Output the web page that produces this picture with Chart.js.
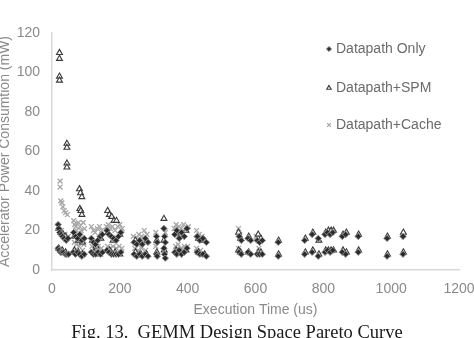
<!DOCTYPE html>
<html>
<head>
<meta charset="utf-8">
<script src="https://cdn.jsdelivr.net/npm/chart.js@4.4.0/dist/chart.umd.min.js"></script>
<style>
  html, body { margin: 0; padding: 0; background: #fff; }
  #wrap { position: relative; width: 474px; height: 338px; overflow: hidden; }
  #caption {
    position: absolute; left: 0; top: 321px; width: 474px;
    text-align: center; font-family: 'Liberation Serif', 'Times New Roman', serif;
    font-size: 18.5px; line-height: 22px; color: #1a1a1a; white-space: nowrap;
  }
</style>
</head>
<body>
<div id="wrap">
  <canvas id="chart" width="474" height="338"></canvas>
  <div id="caption">Fig. 13.&nbsp;&nbsp;GEMM Design Space Pareto Curve</div>
</div>
<script>
// design points: [execution time (us), power (mW)]
const datapathOnly = [
  [18,23],[20,21],[23,19],[27,18],[31,17],[36,16],[42,15],[47,16],
  [18,11],[21,10],[25,9],[29,9],[34,9],[39,8],[44,8],[49,8],
  [64,19],[70,17],[76,16],[82,18],[88,15],[95,16],
  [63,9],[69,8],[75,9],[81,8],[88,7],[95,8],
  [116,16],[122,14],[128,13],[135,15],[142,17],[148,18],
  [116,9],[122,8],[129,8],[136,9],[143,8],[149,9],
  [162,20],[168,18],[175,17],[182,16],[189,15],[196,17],[203,19],
  [162,10],[168,9],[175,8],[182,8],[189,8],[196,8],[203,9],
  [242,14],[250,13],[258,15],[266,13],[275,16],[283,14],
  [242,8],[250,7],[258,8],[266,7],[275,8],[283,7],
  [308,17],[310,14],[330,21],[332,17],[334,14],
  [308,8],[310,7],[330,11],[332,8],[334,6],
  [362,18],[368,20],[375,16],[382,19],[390,17],[398,21],
  [362,9],[368,8],[375,10],[382,8],[390,9],[398,11],
  [428,17],[436,15],[445,16],[455,14],
  [428,9],[436,8],[445,8],[455,7],
  [552,17],[558,15],[578,16],[586,15],[605,15],[612,14],[620,15],
  [552,9],[558,8],[578,9],[586,8],[605,8],[612,8],[620,8],
  [667,14],[667,7],[745,15],[745,8],[767,18],[767,9],[785,16],[785,7],
  [805,18],[812,19],[820,18],[828,19],[805,9],[812,10],[820,9],[828,10],
  [856,17],[866,18],[856,9],[866,8],[903,17],[903,9],
  [988,16],[988,7],[1035,17],[1035,8]
];
const datapathSpm = [
  [22,110],[22,107],[22,98],[22,96],
  [44,64],[44,62],[44,54],[44,52],
  [81,41],[84,39],[88,37],[82,31],[85,30],[88,28],
  [20,21],[26,19],[33,18],[40,17],[20,11],[30,10],[40,9],
  [66,17],[78,15],[90,14],[66,10],[78,9],[90,8],
  [119,15],[130,12],[144,16],[124,9],[140,8],
  [164,30],[169,28],[176,27],[183,25],[190,25],
  [165,19],[180,15],[200,18],[170,10],[186,9],[200,8],
  [246,15],[262,14],[279,15],[246,9],[262,8],[279,8],
  [330,26],[330,15],[331,10],[309,15],[309,9],
  [366,19],[380,18],[395,20],[366,10],[380,9],[395,10],
  [432,16],[450,15],[432,9],[450,8],
  [550,19],[556,16],[580,17],[608,18],[616,16],[550,10],[556,9],[580,9],[608,9],[616,9],
  [668,15],[668,8],[747,16],[747,9],[769,19],[769,10],[787,15],[787,8],
  [807,19],[815,20],[823,20],[830,20],[807,10],[815,10],[823,10],[830,10],
  [858,18],[868,19],[858,10],[868,9],[904,18],[904,10],
  [989,17],[989,8],[1036,19],[1036,9]
];
const datapathCache = [
  [24,45],[24,42],[26,35],[29,34],[32,32],[36,30],[40,29],[45,28],
  [20,22],[28,20],[38,18],[48,17],[27,10],[36,9],
  [64,25],[67,23],[70,22],[73,20],[78,24],[82,22],[86,20],[92,24],[96,21],
  [66,14],[72,13],[80,12],[86,14],[94,13],[70,10],[90,10],
  [116,22],[122,20],[127,19],[134,21],[140,22],[146,20],
  [118,12],[126,11],[136,12],[146,11],
  [160,22],[166,23],[172,21],[178,22],[186,20],[194,22],[200,23],[207,21],
  [164,12],[172,11],[180,12],[190,11],[198,12],[206,11],
  [240,17],[248,16],[256,18],[264,17],[272,20],[280,18],
  [244,11],[254,10],[264,11],[276,10],
  [306,19],[306,12],[334,19],
  [360,21],[366,23],[374,22],[381,21],[388,23],[396,20],[402,22],
  [364,12],[372,13],[380,11],[390,12],[400,12],
  [426,20],[434,18],[442,17],[426,11],[438,10],
  [550,21],[554,18],[550,11],[602,17],[610,11]
];

const xTicks = [0, 200, 400, 600, 800, 1000, 1200];
const yTicks = [0, 20, 40, 60, 80, 100, 120];

const toXY = arr => arr.map(p => ({ x: p[0], y: p[1] }));

const seriesNames = ['Datapath Only', 'Datapath+SPM', 'Datapath+Cache'];

const datasets = [
  {
    label: seriesNames[0], data: toXY(datapathOnly),
    pointStyle: 'rectRot', pointRadius: 3.2, borderWidth: 1,
    backgroundColor: '#2b2b2b', borderColor: '#8c8c8c'
  },
  {
    label: seriesNames[1], data: toXY(datapathSpm),
    pointStyle: 'triangle', pointRadius: 3.4, borderWidth: 1.1,
    backgroundColor: 'rgba(255,255,255,0.9)', borderColor: '#3a3a3a'
  },
  {
    label: seriesNames[2], data: toXY(datapathCache),
    pointStyle: 'crossRot', pointRadius: 3.4, borderWidth: 1.3,
    backgroundColor: '#a6a6a6', borderColor: '#a6a6a6'
  }
];

// legend sits inside the plot, stacked with wide gaps
const insideLegend = {
  id: 'insideLegend',
  afterDraw(chart) {
    const ctx = chart.ctx;
    const rows = [49, 88, 125];
    ctx.save();
    chart.data.datasets.forEach((ds, i) => {
      ctx.fillStyle = ds.backgroundColor;
      ctx.strokeStyle = ds.borderColor;
      ctx.lineWidth = ds.borderWidth;
      Chart.helpers.drawPoint(ctx, { pointStyle: ds.pointStyle, radius: 2.6, rotation: 0, borderWidth: ds.borderWidth }, 329, rows[i]);
      ctx.fillStyle = '#6b6b6b';
      ctx.font = "14px 'Liberation Sans', Arial, sans-serif";
      ctx.textBaseline = 'middle';
      ctx.textAlign = 'left';
      ctx.fillText(ds.label, 336, rows[i]);
    });
    ctx.restore();
  }
};

const tickFont = { family: "'Liberation Sans', Arial, sans-serif", size: 14 };

new Chart(document.getElementById('chart'), {
  type: 'scatter',
  data: { datasets },
  plugins: [insideLegend],
  options: {
    responsive: false,
    animation: false,
    devicePixelRatio: 1,
    layout: { padding: { top: 33, right: 15, bottom: 19, left: 0 } },
    plugins: { legend: { display: false }, tooltip: { enabled: false } },
    scales: {
      x: {
        type: 'linear', min: 0, max: 1200,
        afterBuildTicks: s => { s.ticks = xTicks.map(v => ({ value: v })); },
        // last label is allowed to run off the right edge
        afterFit: s => { s.height = 49; s.paddingRight = 0; s.paddingLeft = 0; },
        grid: { display: false, drawTicks: false },
        border: { display: true, color: '#d9d9d9', width: 1.5 },
        ticks: { font: tickFont, color: '#8a8a8a', padding: 11, maxRotation: 0, callback: v => String(v) },
        title: { display: true, text: 'Execution Time (us)', font: tickFont, color: '#8a8a8a', padding: 0 }
      },
      y: {
        type: 'linear', min: 0, max: 120,
        afterBuildTicks: s => { s.ticks = yTicks.map(v => ({ value: v })); },
        afterFit: s => { s.width = 52; },
        grid: { display: false, drawTicks: false },
        border: { display: true, color: '#d9d9d9', width: 1.5 },
        ticks: { font: tickFont, color: '#8a8a8a', padding: 12, callback: v => String(v) },
        title: { display: true, text: 'Accelerator Power Consumtion (mW)', font: tickFont, color: '#8a8a8a', padding: { top: -3, bottom: 0 } }
      }
    }
  }
});
</script>
</body>
</html>
